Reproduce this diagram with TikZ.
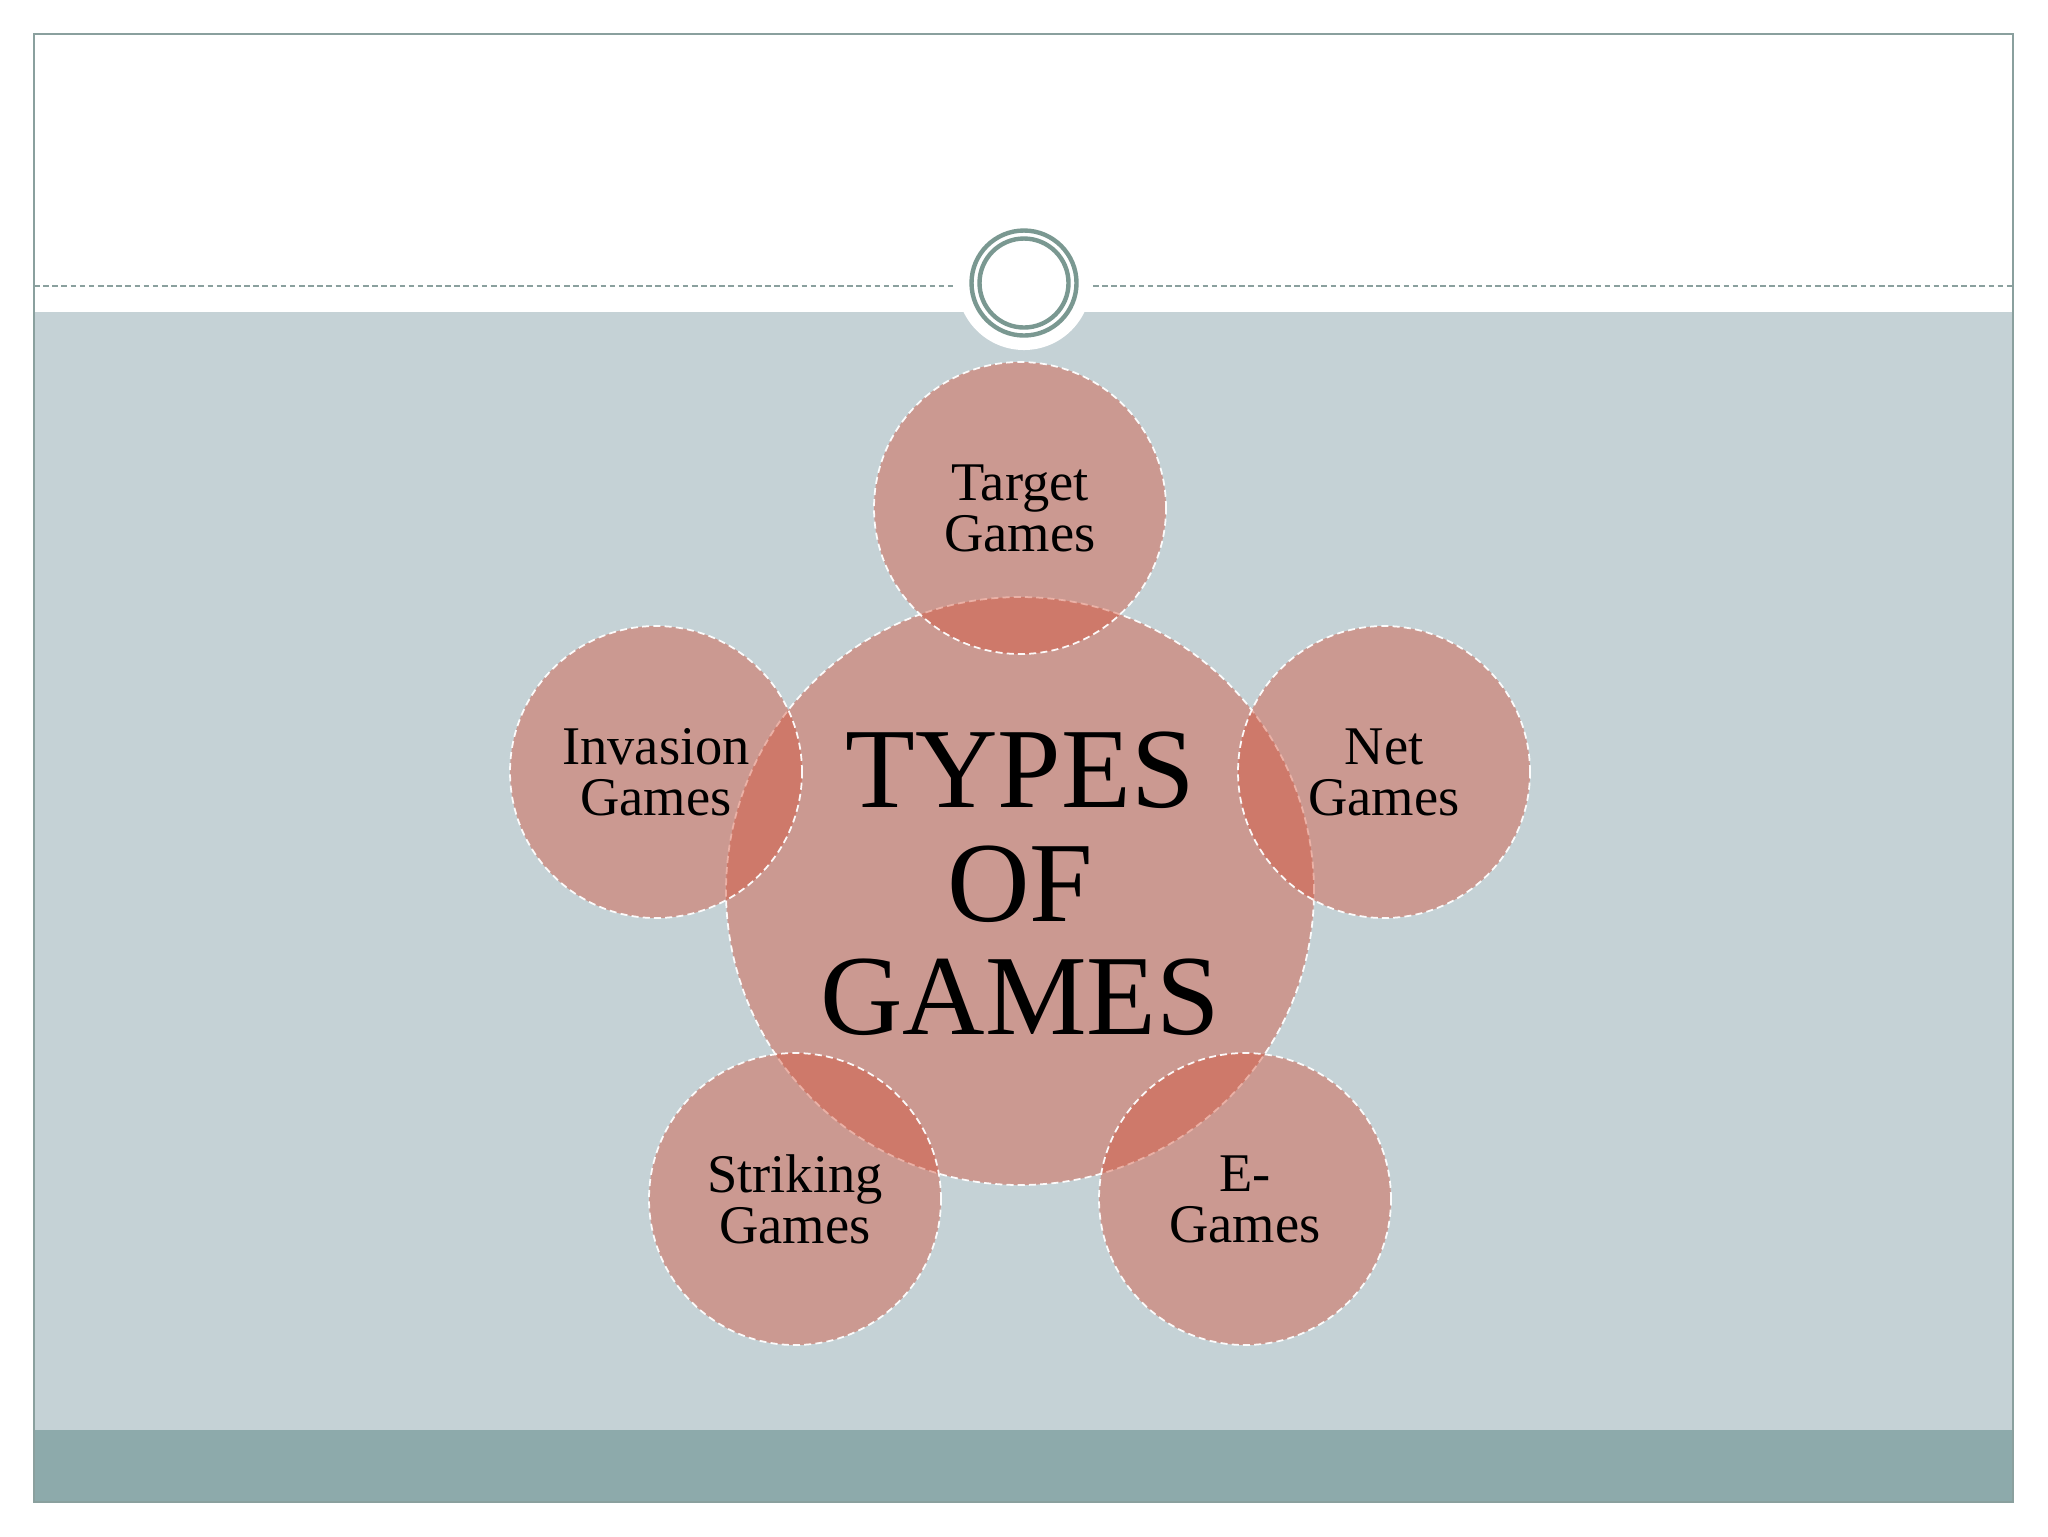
\documentclass[tikz,border=0pt]{standalone}
\usepackage{fontspec}
\setmainfont{Liberation Serif}
\definecolor{bgblue}{RGB}{197,210,214}
\definecolor{footer}{RGB}{141,170,171}
\definecolor{framegray}{RGB}{138,160,158}
\definecolor{ringgreen}{RGB}{122,152,145}
\definecolor{bubblered}{RGB}{212,80,55}
\tikzset{
  bubble/.style={circle, draw=white, draw opacity=0.95, line width=0.5pt,
    dash pattern=on 2pt off 1.2pt, fill=bubblered, fill opacity=0.43,
    text opacity=1, text=black, align=center, inner sep=0pt},
  small/.style={bubble, minimum size=29.2mm, font=\fontsize{15.5}{14.5}\selectfont},
  big/.style={bubble, minimum size=58.8mm, font=\fontsize{32.5}{32.3}\selectfont},
  ring/.style={draw=ringgreen, line width=1.25pt}
}
\begin{document}
\begin{tikzpicture}[x=0.1mm,y=-0.1mm]
\useasboundingbox (0,0) rectangle (2048,1536);
\fill[white] (0,0) rectangle (2048,1536);
% panels
\fill[bgblue] (34,312) rectangle (2013,1430);
\fill[footer] (34,1430) rectangle (2013,1502);
% ornament
\fill[white] (1024,283) circle[radius=67];
\coordinate (dl0) at (34,286);
\coordinate (dl1) at (955,286);
\coordinate (dr0) at (1093,286);
\coordinate (dr1) at (2013,286);
\draw[framegray, line width=0.6pt, dash pattern=on 1.6pt off 1pt] (dl0) -- (dl1);
\draw[framegray, line width=0.6pt, dash pattern=on 1.6pt off 1pt] (dr0) -- (dr1);
\node[circle, ring, minimum size=10.5mm, inner sep=0pt] (ringout) at (1024,283) {};
\node[circle, ring, minimum size=8.9mm, inner sep=0pt] (ringin) at (1024,283) {};
% bubbles
\node[big] (center) at (1020,891) {};
\node[font=\fontsize{32.5}{32.3}\selectfont, align=center, inner sep=0pt] (title) at (1020,884) {TYPES\\OF\\GAMES};
\node[small] (target) at (1020,508) {Target\\Games};
\node[small] (invasion) at (656,772) {Invasion\\Games};
\node[small] (net) at (1384,772) {Net\\Games};
\node[small] (striking) at (795,1199) {Striking\\Games};
\node[small] (egames) at (1245,1199) {E-\\Games};
% frame
\draw[framegray, line width=0.8pt] (34,34) rectangle (2013,1502);
\end{tikzpicture}
\end{document}
